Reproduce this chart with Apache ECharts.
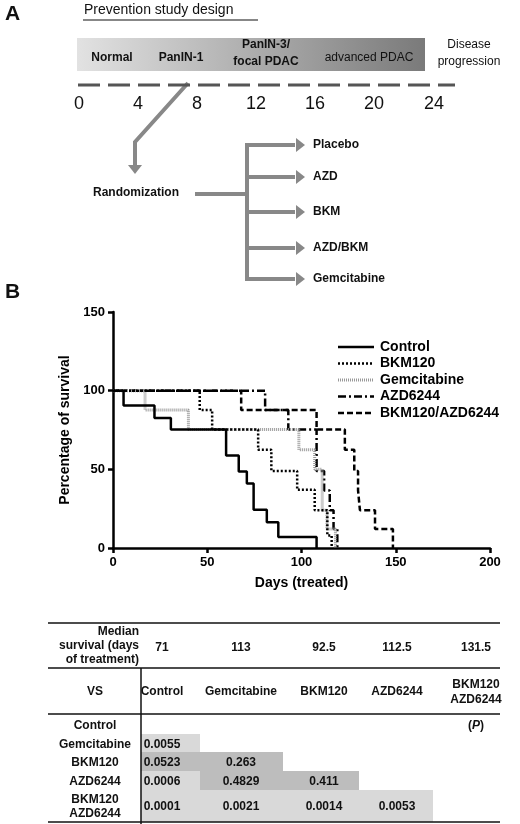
<!DOCTYPE html>
<html>
<head>
<meta charset="utf-8">
<script src="https://cdn.jsdelivr.net/npm/echarts@6/dist/echarts.min.js"></script>
<style>
  html, body { margin: 0; padding: 0; background: #fff; }
  #chart { width: 520px; height: 824px; }
</style>
</head>
<body>
<div id="chart"></div>
<script>
// survival curves: [day, percent] at each drop
const control = [[0, 100], [5.6, 90.5], [22, 82.7], [30.7, 75.3], [60, 58.8], [66.7, 48.6], [71, 41], [74.6, 24.3], [81.6, 16.3], [87.7, 7], [108, 0]]
const bkm120 = [[0, 100], [46, 87.7], [52.6, 75.3], [77, 62.4], [84, 49], [97.7, 37], [107, 24], [113.7, 8], [116, 0]]
const gemcitabine = [[0, 100], [17, 87.7], [40, 75.3], [98.6, 62.4], [107, 50], [111, 24], [113.5, 12], [118, 0]]
const azd6244 = [[0, 100], [80.7, 87.7], [93, 75.3], [108, 49], [112, 36.6], [115, 24], [117, 12], [119, 0]]
const combo = [[0, 100], [68, 87.7], [108, 75.3], [123, 62.4], [128, 49], [130, 36.6], [131, 24], [139, 12], [148.5, 0]]

const seriesNames = ['Control', 'BKM120', 'Gemcitabine', 'AZD6244', 'BKM120/AZD6244']
const timeTicks = ['0', '4', '8', '12', '16', '20', '24']
const stages = ['Normal', 'PanIN-1', 'PanIN-3/\nfocal PDAC', 'advanced PDAC']
const arms = ['Placebo', 'AZD', 'BKM', 'AZD/BKM', 'Gemcitabine']

const medians = ['71', '113', '92.5', '112.5', '131.5']
const tableCols = ['Control', 'Gemcitabine', 'BKM120', 'AZD6244', 'BKM120\nAZD6244']
const tableRows = ['Control', 'Gemcitabine', 'BKM120', 'AZD6244', 'BKM120\nAZD6244']
const pValues = [
  [],
  ['0.0055'],
  ['0.0523', '0.263'],
  ['0.0006', '0.4829', '0.411'],
  ['0.0001', '0.0021', '0.0014', '0.0053']
]
const darkCells = [[2, 0], [2, 1], [3, 1], [3, 2]]

const chart = echarts.init(document.getElementById('chart'))
const font = 'Helvetica, Arial, "Liberation Sans", sans-serif'
const g = []
const txt = (x, y, text, o = {}) => g.push({
  type: 'text', x, y, z: 10,
  style: Object.assign({ text, font: `bold 12px ${font}`, fill: '#111', align: 'center', verticalAlign: 'middle' }, o)
})
const line = (x1, y1, x2, y2, o = {}) => g.push({
  type: 'line', shape: { x1, y1, x2, y2 }, z: 10,
  style: Object.assign({ stroke: '#111', lineWidth: 1.5 }, o)
})
const arrowHead = (x, y, dir) => {
  const pts = dir === 'down' ? [[x - 7, y - 9], [x + 7, y - 9], [x, y]] : [[x - 9, y - 7], [x - 9, y + 7], [x, y]]
  g.push({ type: 'polygon', shape: { points: pts }, style: { fill: '#888' } })
}

// panel A
txt(5, 14, 'A', { font: `bold 21px ${font}`, align: 'left' })
txt(84, 10, 'Prevention study design', { font: `14px ${font}`, align: 'left' })
line(83, 20, 258, 20, { lineWidth: 1.2 })
g.push({
  type: 'rect', shape: { x: 77, y: 38, width: 348, height: 33 },
  style: { fill: new echarts.graphic.LinearGradient(0, 0, 1, 0, [
    { offset: 0, color: '#e2e2e2' }, { offset: 0.4, color: '#b8b8b8' }, { offset: 1, color: '#7a7a7a' }]) }
})
const stageX = [112, 181, 266, 369]
stages.forEach((s, i) => txt(stageX[i], i === 2 ? 53 : 58, s, {
  font: `${i === 3 ? '' : 'bold '}12px ${font}`, lineHeight: 17, fill: '#111'
}))
txt(469, 53, 'Disease\nprogression', { font: `12px ${font}`, lineHeight: 17 })
line(78, 85, 455, 85, { stroke: '#555', lineWidth: 3, lineDash: [22, 8] })
timeTicks.forEach((t, i) => txt(79 + i * 59 + (i === 6 ? 1 : 0), 104, t, { font: `18px ${font}` }))
g.push({ type: 'polyline', shape: { points: [[188, 83], [135, 142], [135, 165]] }, style: { stroke: '#888', lineWidth: 4, fill: null } })
arrowHead(135, 174, 'down')
txt(93, 193, 'Randomization', { align: 'left' })
line(195, 194, 247, 194, { stroke: '#888', lineWidth: 4 })
const armY = [145, 177, 212, 248, 279]
line(247, 143, 247, 281, { stroke: '#888', lineWidth: 4 })
arms.forEach((a, i) => {
  line(247, armY[i], 295, armY[i], { stroke: '#888', lineWidth: 4 })
  arrowHead(305, armY[i], 'right')
  txt(313, armY[i], a, { align: 'left' })
})

// panel B
txt(5, 292, 'B', { font: `bold 21px ${font}`, align: 'left' })

const styles = [
  { color: '#000', width: 2.5, type: 'solid' },
  { color: '#000', width: 2.5, type: [2, 2] },
  { color: '#999', width: 3, type: [1, 1] },
  { color: '#000', width: 2.5, type: [8, 3, 2, 3] },
  { color: '#000', width: 2.5, type: [6, 3] }
]
const curves = [control, bkm120, gemcitabine, azd6244, combo]

// legend
seriesNames.forEach((n, i) => {
  const y = 347 + i * 16.5
  line(338, y, 374, y, { stroke: styles[i].color, lineWidth: styles[i].width, lineDash: styles[i].type === 'solid' ? null : styles[i].type })
  txt(380, y, n, { align: 'left', font: `bold 14px ${font}`, fill: '#000' })
})

// table
const colX = [162, 241, 324, 397, 476]
const colB = [141, 200, 283, 359, 433, 500]
const rowY = [726, 745, 763, 782, 807]
const rowTop = [717, 734, 752, 771, 790]
const rowBot = [734, 752, 771, 790, 822]
pValues.forEach((r, ri) => r.forEach((v, ci) => {
  const dark = darkCells.some(d => d[0] === ri && d[1] === ci)
  g.push({ type: 'rect', shape: { x: colB[ci], y: rowTop[ri], width: colB[ci + 1] - colB[ci], height: rowBot[ri] - rowTop[ri] }, style: { fill: dark ? '#bdbdbd' : '#d9d9d9' } })
  txt(colX[ci], rowY[ri], v)
}))
line(48, 623, 500, 623)
line(48, 668, 500, 668)
line(48, 714, 500, 714)
line(48, 822, 500, 822)
line(141, 668, 141, 824)
txt(139, 646, 'Median\nsurvival (days\nof treatment)', { align: 'right', lineHeight: 14 })
medians.forEach((m, i) => txt(colX[i], 648, m))
txt(95, 692, 'VS')
tableCols.forEach((c, i) => txt(colX[i], 692, c, { lineHeight: 15 }))
tableRows.forEach((r, i) => txt(95, rowY[i], r, { lineHeight: 14 }))
txt(476, 726, '{a|(}{b|P}{a|)}', { rich: { a: { font: `bold 12px ${font}` }, b: { font: `italic bold 12px ${font}` } } })

chart.setOption({
  animation: false,
  textStyle: { fontFamily: font },
  grid: { left: 113, right: 30, top: 312, bottom: 276 },
  xAxis: {
    type: 'value', min: 0, max: 200, interval: 50,
    name: 'Days (treated)', nameLocation: 'middle', nameGap: 28,
    nameTextStyle: { fontWeight: 'bold', fontSize: 14, color: '#000' },
    axisLine: { lineStyle: { color: '#000', width: 2.5 } },
    axisTick: { length: 5, lineStyle: { width: 2.5 } },
    axisLabel: { fontWeight: 'bold', fontSize: 13, color: '#000' },
    splitLine: { show: false }
  },
  yAxis: {
    type: 'value', min: 0, max: 150, interval: 50,
    name: 'Percentage of survival', nameLocation: 'middle', nameGap: 40,
    nameTextStyle: { fontWeight: 'bold', fontSize: 14, color: '#000' },
    axisLine: { show: true, lineStyle: { color: '#000', width: 2.5 } },
    axisTick: { show: true, length: 5, lineStyle: { width: 2.5 } },
    axisLabel: { fontWeight: 'bold', fontSize: 13, color: '#000' },
    splitLine: { show: false }
  },
  series: curves.map((d, i) => ({
    name: seriesNames[i], type: 'line', step: 'end', data: d,
    showSymbol: false, symbol: 'none', z: 5 - i,
    lineStyle: styles[i], itemStyle: { color: styles[i].color }
  })),
  graphic: g
})
</script>
</body>
</html>
